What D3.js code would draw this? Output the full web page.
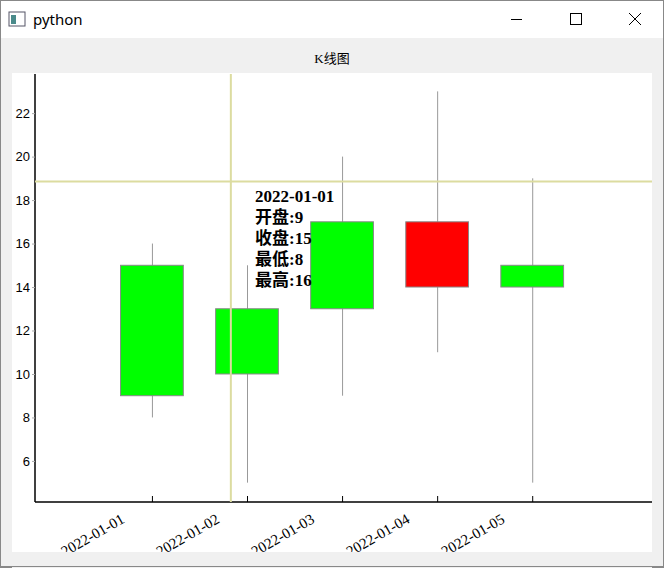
<!DOCTYPE html>
<html><head><meta charset="utf-8">
<script src="https://cdn.jsdelivr.net/npm/d3@7"></script>
<style>body{margin:0;overflow:hidden}</style>
</head><body>
<script>
const dates=["2022-01-01","2022-01-02","2022-01-03","2022-01-04","2022-01-05"];
const open=[9,10,13,17,14];
const close=[15,13,17,14,15];
const low=[8,5,9,11,5];
const high=[16,15,20,23,19];
const yTicks=[6,8,10,12,14,16,18,20,22];
const W=664,H=568;
const svg=d3.select("body").append("svg").attr("width",W).attr("height",H);
svg.append("rect").attr("width",W).attr("height",H).attr("fill","#f0f0f0");
svg.append("rect").attr("width",W).attr("height",38).attr("fill","#fff");
svg.append("rect").attr("x",0.5).attr("y",0.5).attr("width",W-1).attr("height",H-1).attr("fill","none").attr("stroke","#888");
svg.append("rect").attr("x",9).attr("y",12).attr("width",16).attr("height",14).attr("fill","#fff").attr("stroke","#556");
svg.append("rect").attr("x",11).attr("y",15).attr("width",5).attr("height",9).attr("fill","#4a8a8a");
svg.append("text").attr("x",33).attr("y",25).text("python").attr("font-family","Noto Sans").attr("font-size",15);
svg.append("line").attr("x1",511).attr("x2",522).attr("y1",19.5).attr("y2",19.5).attr("stroke","#000");
svg.append("rect").attr("x",570.5).attr("y",13.5).attr("width",11).attr("height",11).attr("fill","none").attr("stroke","#000");
svg.append("path").attr("d","M629,13L641,25M641,13L629,25").attr("stroke","#000");
svg.append("rect").attr("x",12).attr("y",73).attr("width",640).attr("height",479).attr("fill","#fff");
svg.append("text").attr("x",332).attr("y",63).attr("text-anchor","middle").text("K线图").attr("font-family","Liberation Serif, Noto Sans CJK SC").attr("font-size",13);
const x=d3.scaleLinear().domain([-1.23,5.26]).range([35,652]);
const y=d3.scaleLinear().domain([4.11,23.8]).range([502,74]);
const g=svg.append("g");
const bw=x(0.66)-x(0);
dates.forEach((d,i)=>{
  g.append("line").attr("x1",x(i)+0.5).attr("x2",x(i)+0.5).attr("y1",y(low[i])).attr("y2",y(high[i])).attr("stroke","#999");
  const t=Math.max(open[i],close[i]),b=Math.min(open[i],close[i]);
  g.append("rect").attr("x",x(i)-bw/2).attr("y",y(t)).attr("width",bw).attr("height",y(b)-y(t))
   .attr("fill",close[i]>=open[i]?"#00ff00":"#ff0000").attr("stroke","#888");
});
const ya=svg.append("g").attr("transform","translate(35,0)").call(d3.axisLeft(y).tickValues(yTicks).tickSize(3).tickFormat(d3.format("d")));
ya.select(".domain").attr("stroke","#000").attr("stroke-width",1.5).attr("d","M0,74V502");
ya.selectAll(".tick line").attr("stroke","#aaa");
ya.selectAll("text").attr("font-family","Liberation Sans").attr("font-size",13).attr("fill","#000").attr("x",-5);
const xa=svg.append("g").attr("transform","translate(0,502)").call(d3.axisBottom(x).tickValues([0,1,2,3,4]).tickSize(-6).tickFormat(d=>dates[d]));
xa.select(".domain").attr("stroke","#000").attr("stroke-width",1.5).attr("d","M35,0H652");
xa.selectAll(".tick line").attr("stroke","#000");
xa.selectAll("text").attr("font-family","Liberation Serif").attr("font-size",15).attr("fill","#000")
  .attr("text-anchor","end").attr("y",0).attr("dy",0).attr("transform","translate(-27,20) rotate(-30)");
svg.append("rect").attr("x",12).attr("y",552).attr("width",640).attr("height",16).attr("fill","#f0f0f0");
svg.append("line").attr("x1",0).attr("x2",W).attr("y1",H-1.5).attr("y2",H-1.5).attr("stroke","#888");
const cx=x(0.83),cy=y(18.85);
svg.append("line").attr("x1",cx).attr("x2",cx).attr("y1",74).attr("y2",502).attr("stroke","#dcdca0").attr("stroke-width",2);
svg.append("line").attr("x1",35).attr("x2",652).attr("y1",cy).attr("y2",cy).attr("stroke","#dcdca0").attr("stroke-width",2);
const tip=["2022-01-01","开盘:"+open[0],"收盘:"+close[0],"最低:"+low[0],"最高:"+high[0]];
tip.forEach((t,i)=>svg.append("text").attr("x",255).attr("y",202+i*21).text(t).attr("font-family","Liberation Serif, Noto Sans CJK SC").attr("font-weight","bold").attr("font-size",17));
</script>
</body></html>
